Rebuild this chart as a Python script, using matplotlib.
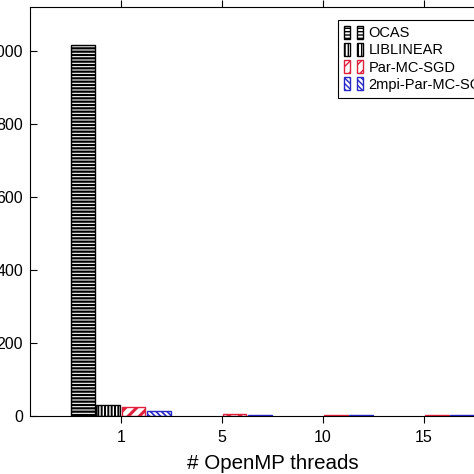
import matplotlib
matplotlib.use("Agg")
import matplotlib.pyplot as plt
import numpy as np
from matplotlib.legend_handler import HandlerTuple

plt.rcParams['font.family'] = ['Liberation Sans', 'DejaVu Sans']

# data (time per run)
threads = ['1', '5', '10', '15']
ocas = [1016, np.nan, np.nan, np.nan]
liblinear = [30, np.nan, np.nan, np.nan]
par_mc_sgd = [23, 5, 3, 3]
mpi_par_mc_sgd = [12, 2, 2, 2]

names = ['OCAS', 'LIBLINEAR', 'Par-MC-SGD', '2mpi-Par-MC-SGD']
series = [ocas, liblinear, par_mc_sgd, mpi_par_mc_sgd]
edges = ['black', 'black', '#e0203c', '#2828c8']
hatches = ['-----', '|||||', '///', '\\\\\\\\\\\\']
hatch_lw = [1.6, 1.4, 2.2, 1.2]

fig = plt.figure(figsize=(4.74, 4.74), dpi=100)
ax = fig.add_axes([30/474, 1 - 415.7/474, (515 - 30)/474, (415.7 - 7)/474])

x = np.arange(len(threads))
w = 0.25
handles = []
for i, (vals, ec, h) in enumerate(zip(series, edges, hatches)):
    with plt.rc_context({'hatch.linewidth': hatch_lw[i]}):
        ax.bar(x + (i - 1.5) * w, vals, w * 0.94, color='white', edgecolor=ec,
               hatch=h, linewidth=1.0)
        p1 = plt.Rectangle((0, 0), 1, 1, facecolor='white', edgecolor=ec, hatch=h, linewidth=1.0)
        p2 = plt.Rectangle((0, 0), 1, 1, facecolor='white', edgecolor=ec, hatch=h, linewidth=1.0)
    handles.append((p1, p2))

ax.set_xlim(-0.9, 3.9)
ax.set_ylim(0, 1120)
ax.set_xticks(x)
ax.set_xticklabels(threads)
ax.set_yticks([0, 200, 400, 600, 800, 1000])
ax.tick_params(axis='x', direction='out', top=True, length=5, width=0.8, labelsize=11.5, pad=5)
ax.tick_params(axis='y', direction='in', right=True, length=5, width=0.8, labelsize=11.5, pad=5)
for s in ax.spines.values():
    s.set_linewidth(0.8)
ax.set_xlabel('# OpenMP threads', fontsize=14.8, labelpad=7)

leg = ax.legend(handles, names, handler_map={tuple: HandlerTuple(ndivide=None, pad=0.5)},
                loc='upper left', bbox_to_anchor=(338/474, 1 - 20/474),
                bbox_transform=fig.transFigure, fontsize=10.5, fancybox=False,
                edgecolor='black', framealpha=1, handlelength=1.3, handleheight=1.0,
                handletextpad=0.4, labelspacing=0.18, borderpad=0.4, borderaxespad=0)
leg.get_frame().set_linewidth(0.8)

fig.savefig('out.png', dpi=100)
